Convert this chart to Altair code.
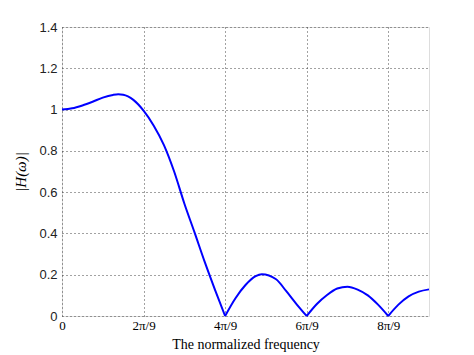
import altair as alt
import pandas as pd

# frequency in units of pi/9, split into lobes between the zeros
freq = [0, 0.25, 0.5, 0.75, 1.0, 1.25, 1.38, 1.5, 1.75, 2.0, 2.25, 2.5, 2.75, 3.0,
        3.25, 3.5, 3.75, 4.0,
        4.0, 4.25, 4.5, 4.75, 4.9, 5.25, 5.5, 5.75, 6.0,
        6.0, 6.25, 6.5, 6.75, 7.0, 7.25, 7.5, 7.75, 8.0,
        8.0, 8.25, 8.5, 8.75, 9.0]
mag = [1.000, 1.006, 1.020, 1.038, 1.058, 1.071, 1.074, 1.072, 1.047, 0.995, 0.922, 0.828, 0.700, 0.545,
       0.405, 0.262, 0.128, 0.000,
       0.000, 0.085, 0.150, 0.193, 0.202, 0.178, 0.120, 0.058, 0.000,
       0.000, 0.058, 0.102, 0.133, 0.142, 0.128, 0.100, 0.055, 0.000,
       0.000, 0.055, 0.095, 0.118, 0.129]
lobe = [0] * 18 + [1] * 9 + [2] * 9 + [3] * 5

x_ticks = [0, 2, 4, 6, 8]
y_ticks = [0, 0.2, 0.4, 0.6, 0.8, 1.0, 1.2, 1.4]

df = pd.DataFrame({"f": freq, "H": mag, "lobe": lobe})

chart = alt.Chart(df).mark_line(color="#0000ff", strokeWidth=2, interpolate="monotone").encode(
    x=alt.X("f:Q", scale=alt.Scale(domain=[0, 9], nice=False),
            axis=alt.Axis(values=x_ticks, title="The normalized frequency",
                          labelExpr="datum.value == 0 ? '0' : datum.value + 'π/9'",
                          labelFont="Liberation Serif", labelFontSize=13, labelColor="#000",
                          titleFont="Liberation Serif", titleFontSize=14, titleFontWeight="normal",
                          titleColor="#000", titlePadding=5, labelPadding=3,
                          ticks=False, domain=False, labelFlush=False,
                          grid=True, gridDash=[1, 3], gridColor="#444", gridOpacity=1)),
    y=alt.Y("H:Q", scale=alt.Scale(domain=[0, 1.4], nice=False),
            axis=alt.Axis(values=y_ticks, title="|H(ω)|",
                          labelExpr="datum.value == 0 ? '0' : datum.value == 1 ? '1' : format(datum.value, '.1f')",
                          labelFont="Liberation Sans", labelFontSize=13, labelColor="#222",
                          titleFont="Liberation Serif", titleFontSize=15, titleFontWeight="normal",
                          titleFontStyle="italic", titleColor="#000", titlePadding=10, labelPadding=5,
                          ticks=False, domain=False, labelFlush=False,
                          grid=True, gridDash=[1, 3], gridColor="#444", gridOpacity=1)),
    detail="lobe:N",
).properties(
    width=367, height=289,
    autosize=alt.AutoSizeParams(type="none"),
    padding={"left": 62, "top": 27, "right": 45, "bottom": 39},
).configure_view(stroke="#000", strokeWidth=1).configure(background="white")

chart.save("out.html", embed_options={"renderer": "svg", "actions": False})
